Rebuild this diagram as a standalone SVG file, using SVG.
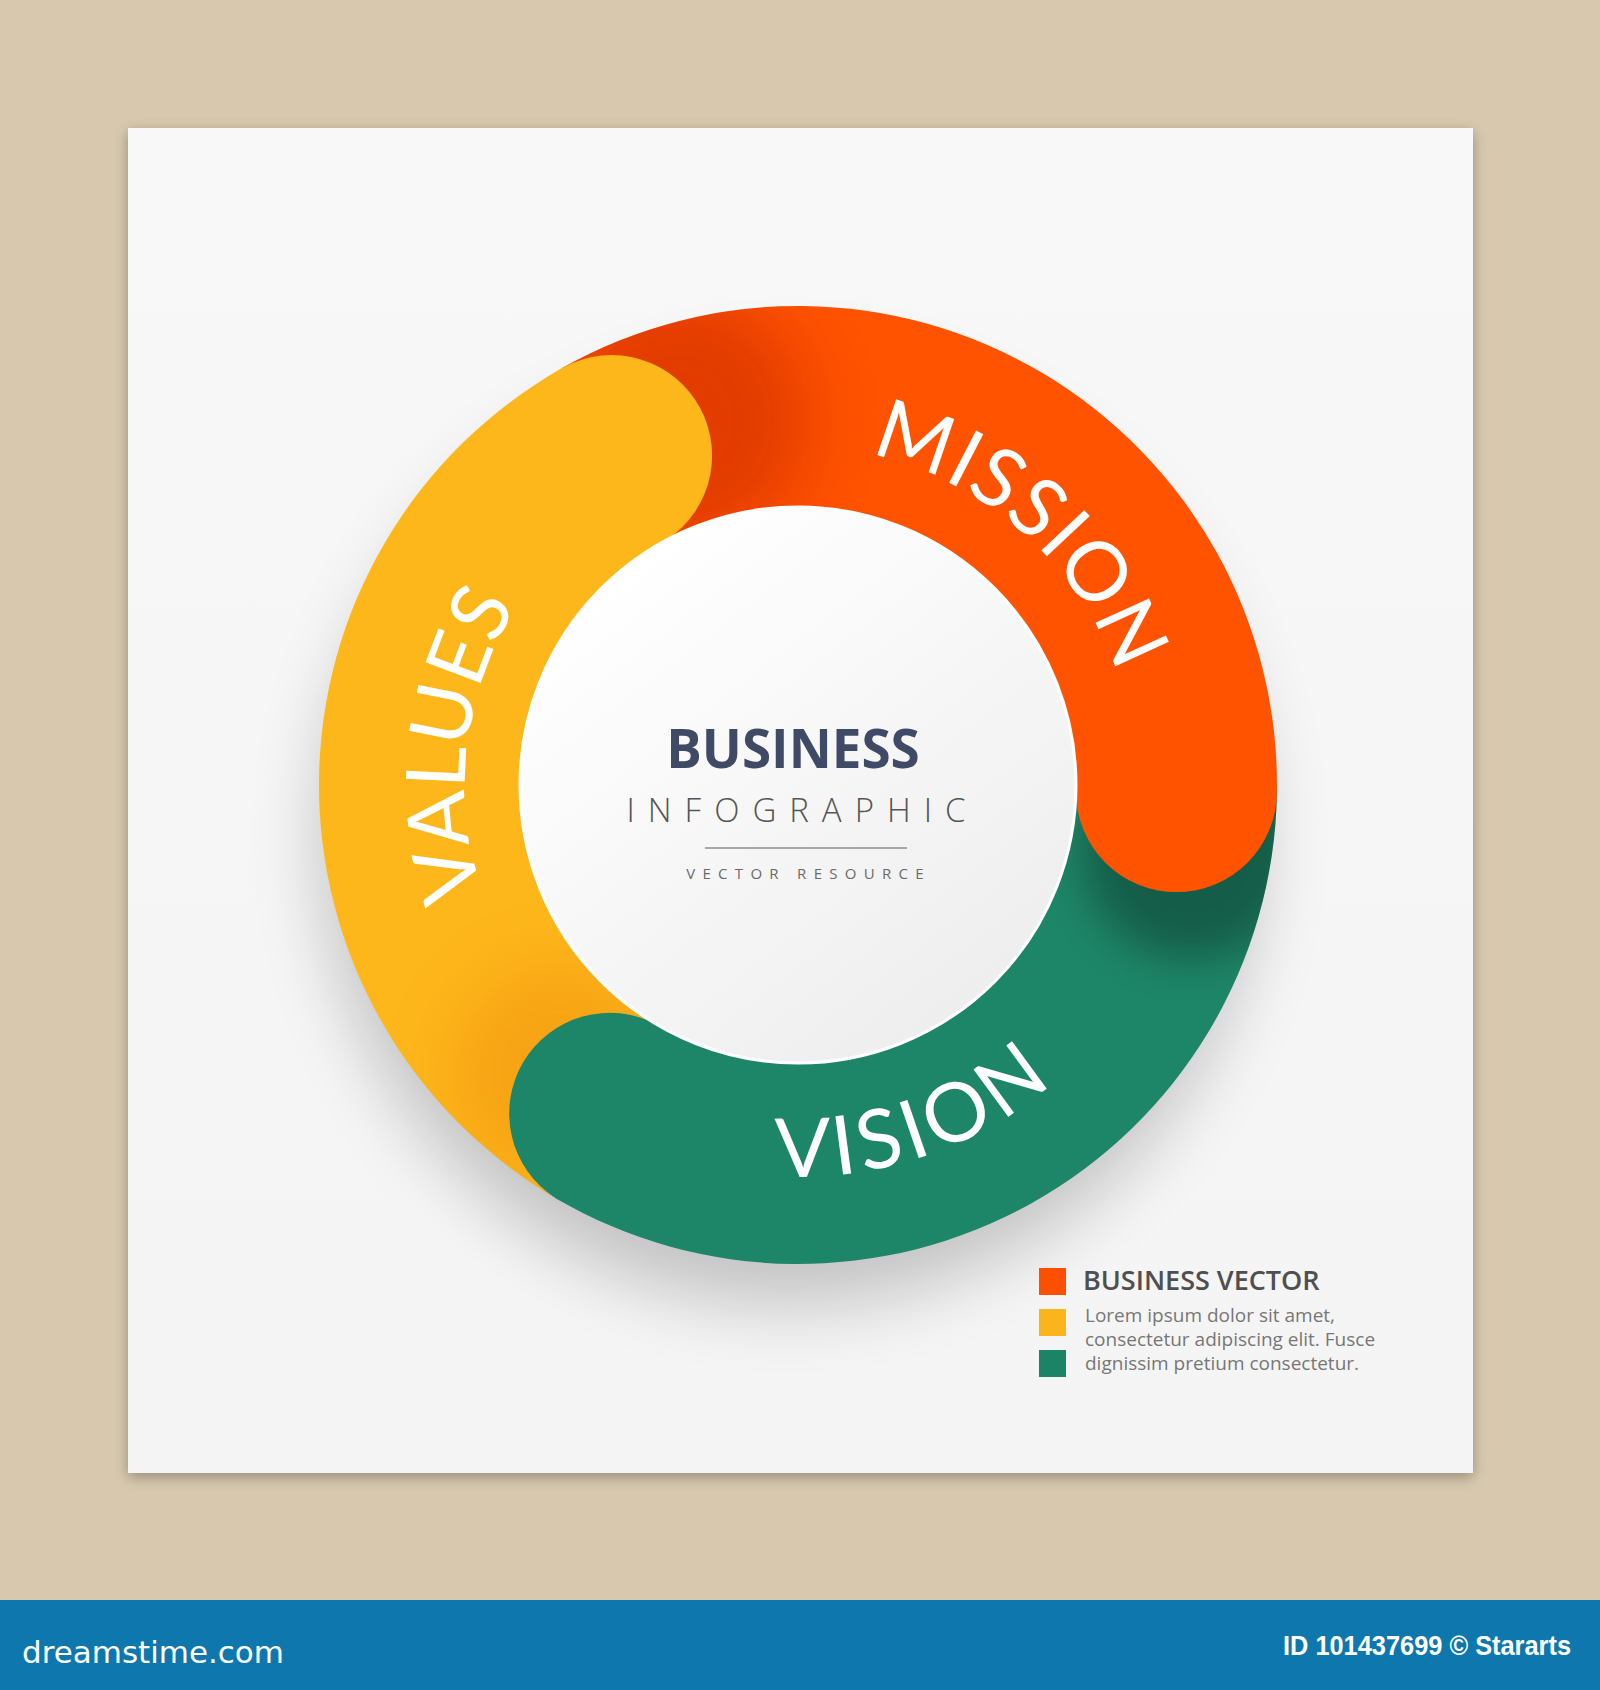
<svg xmlns="http://www.w3.org/2000/svg" width="1600" height="1690" viewBox="0 0 1600 1690">
<style>
.lbl{font-family:Lato,"Open Sans","DejaVu Sans",sans-serif;font-size:82px;font-weight:400;fill:#ffffff;text-anchor:middle}
.os{font-family:"Open Sans","Liberation Sans",sans-serif}
.body{font-family:"Open Sans","Liberation Sans",sans-serif;font-size:19px;fill:#777777}
</style>
<defs>
<filter id="blur35" x="-30%" y="-30%" width="160%" height="160%"><feGaussianBlur stdDeviation="35"/></filter>
<filter id="blur20" x="-60%" y="-60%" width="220%" height="220%"><feGaussianBlur stdDeviation="22"/></filter>
<filter id="blur32" x="-80%" y="-80%" width="260%" height="260%"><feGaussianBlur stdDeviation="34"/></filter>
<filter id="blur8" x="-10%" y="-10%" width="120%" height="120%"><feGaussianBlur stdDeviation="7"/></filter>
<linearGradient id="innerG" x1="0.2" y1="0.1" x2="0.85" y2="0.95">
<stop offset="0" stop-color="#ffffff"/><stop offset="1" stop-color="#ededed"/>
</linearGradient>
<linearGradient id="cardG" x1="0" y1="0" x2="0" y2="1">
<stop offset="0" stop-color="#f8f8f8"/><stop offset="1" stop-color="#f4f4f4"/>
</linearGradient>
<path id="bandO" d="M 562.13 368.10 A 479 479 0 0 1 1276.93 793.36 L 1075.96 789.85 A 278 278 0 0 0 661.11 543.04 Z"/>
<path id="bandG" d="M 1276.93 793.36 A 479 479 0 0 1 554.89 1197.72 L 656.90 1024.53 A 278 278 0 0 0 1075.96 789.85 Z"/>
<path id="bandY" d="M 554.89 1197.72 A 479 479 0 0 1 562.13 368.10 L 661.11 543.04 A 278 278 0 0 0 656.90 1024.53 A 100.6 100.6 0 0 0 554.89 1197.72 Z"/>
<clipPath id="clipO"><use href="#bandO"/></clipPath>
<clipPath id="clipG"><use href="#bandG"/></clipPath>
<clipPath id="clipY"><use href="#bandY"/></clipPath>
<path id="pMission" d="M 547.61 557.96 A 338 338 0 0 1 1056.16 1003.17"/>
<path id="pValues" d="M 754.53 1115.15 A 333 333 0 0 1 829.92 453.53"/>
<path id="pVision" d="M 428.03 914.56 A 392 392 0 0 0 1172.27 668.43"/>
</defs>

<g id="background">
<rect x="0" y="0" width="1600" height="1690" fill="#d8c9ae"/>
<rect x="128" y="132" width="1345" height="1345" fill="#000" opacity="0.3" filter="url(#blur8)"/>
<rect x="128" y="128" width="1345" height="1345" fill="url(#cardG)"/>
</g>

<g id="ring-shadow">
<circle cx="790" cy="835" r="470" fill="#000" opacity="0.2" filter="url(#blur35)"/>
</g>

<g id="node-vision">
<use href="#bandG" fill="#1e8668"/>
<circle cx="605.90" cy="1111.13" r="100.5" fill="#1e8668"/>
<text class="lbl" letter-spacing="5"><textPath href="#pVision" startOffset="613">VISION</textPath></text>
</g>

<g id="node-mission">
<use href="#bandO" fill="#ff5300"/>
<circle cx="1192" cy="850" r="110" fill="#000" opacity="0.3" filter="url(#blur20)" clip-path="url(#clipG)"/>
<circle cx="1176.44" cy="791.61" r="100.5" fill="#ff5300"/>
<text class="lbl" letter-spacing="1"><textPath href="#pMission" startOffset="527">MISSION</textPath></text>
</g>

<g id="node-values">
<use href="#bandY" fill="#fdb71b"/>
<circle cx="560" cy="1075" r="110" fill="#e86a00" opacity="0.25" filter="url(#blur32)" clip-path="url(#clipY)"/>
<circle cx="680" cy="420" r="130" fill="#c02000" opacity="0.45" filter="url(#blur32)" clip-path="url(#clipO)"/>
<circle cx="611.62" cy="455.57" r="100.5" fill="#fdb71b"/>
<text class="lbl"><textPath href="#pValues" startOffset="518">VALUES</textPath></text>
</g>

<g id="connectors"/>

<g id="node-center">
<circle cx="798" cy="785" r="278" fill="url(#innerG)" stroke="#ffffff" stroke-width="3"/>
<text class="os" x="793" y="768" text-anchor="middle" font-size="53" font-weight="700" fill="#3f4b66">BUSINESS</text>
<text class="os" x="802.5" y="822" text-anchor="middle" font-size="33" font-weight="300" letter-spacing="13" fill="#555555">INFOGRAPHIC</text>
<line x1="705" y1="848" x2="907" y2="848" stroke="#8d8d8d" stroke-width="1.5"/>
<text class="os" x="808.6" y="879" text-anchor="middle" font-size="15" font-weight="400" letter-spacing="7.3" fill="#6a6a6a">VECTOR RESOURCE</text>
</g>

<g id="legend">
<rect x="1039" y="1268" width="27" height="27" fill="#fd4f00"/>
<rect x="1039" y="1309" width="27" height="27" fill="#fbb41b"/>
<rect x="1039" y="1350" width="27" height="27" fill="#1b8466"/>
<text class="os" x="1083" y="1290" font-size="27" font-weight="600" fill="#4f4f4f">BUSINESS VECTOR</text>
<text class="body" x="1085" y="1322">Lorem ipsum dolor sit amet,</text>
<text class="body" x="1085" y="1346">consectetur adipiscing elit. Fusce</text>
<text class="body" x="1085" y="1370">dignissim pretium consectetur.</text>
</g>

<g id="footer">
<rect x="0" y="1600" width="1600" height="90" fill="#0e77ad"/>
<text x="22" y="1663" font-family="'DejaVu Sans',sans-serif" font-size="30" fill="#ffffff" textLength="262" lengthAdjust="spacingAndGlyphs">dreamstime.com</text>
<text x="1283" y="1655" font-family="'Liberation Sans',Arial,sans-serif" font-size="28" font-weight="700" fill="#ffffff" textLength="288" lengthAdjust="spacingAndGlyphs">ID 101437699 © Stararts</text>
</g>
</svg>
